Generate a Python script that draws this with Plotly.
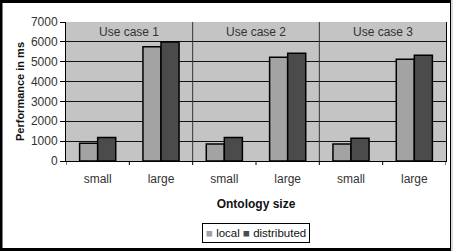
import plotly.graph_objects as go

use_cases = ["Use case 1", "Use case 2", "Use case 3"]
sizes = ["small", "large"]
local = [900, 5750, 850, 5220, 850, 5130]
distributed = [1180, 5990, 1180, 5420, 1140, 5330]
y_ticks = [0, 1000, 2000, 3000, 4000, 5000, 6000, 7000]
series_names = ["local", "distributed"]
series_colors = ["#a3a3a3", "#4b4b4b"]

cats = [f"{u}|{s}" for u in use_cases for s in sizes]
xpos = list(range(len(cats)))
ticktext = [s for u in use_cases for s in sizes]

W, H = 453, 251
ml, mr, mt, mb = 66, 7, 22, 90
pw, ph = W - ml - mr, H - mt - mb

font = "Liberation Sans, Arial, sans-serif"

fig = go.Figure()
for name, vals, col in zip(series_names, [local, distributed], series_colors):
    fig.add_trace(go.Bar(x=xpos, y=vals, name=name, showlegend=False,
                         marker=dict(color=col, line=dict(color="#000", width=1.5))))

px = lambda v: (v - ml) / pw
py = lambda v: (H - mb - v) / ph

shapes = []
n_per = len(sizes)
for k in range(1, len(use_cases)):
    xb = k * n_per - 0.5
    shapes.append(dict(type="line", xref="x", yref="y", x0=xb, x1=xb, y0=0, y1=y_ticks[-1],
                       line=dict(color="#333", width=1)))
for i in range(len(cats) + 1):
    shapes.append(dict(type="line", xref="x", yref="paper", x0=i - 0.5, x1=i - 0.5,
                       y0=0, y1=-4 / ph, line=dict(color="#000", width=1)))
shapes.append(dict(type="rect", xref="paper", yref="paper", x0=px(1), x1=px(W - 1.5),
                   y0=py(H - 1.5), y1=py(1.5), line=dict(color="#000", width=3), layer="below"))
shapes.append(dict(type="line", xref="paper", yref="paper", x0=px(W - 1), x1=px(W - 1),
                   y0=py(H), y1=py(0), line=dict(color="#ddd", width=2)))

annotations = []
for k, u in enumerate(use_cases):
    annotations.append(dict(x=k * n_per + (n_per - 1) / 2, y=(y_ticks[-1] + y_ticks[-2]) / 2,
                            xref="x", yref="y", text=u, showarrow=False,
                            font=dict(family=font, size=12, color="#333")))

leg_text = " ".join(
    f"<span style='color:{c}'>■</span> {n}" for n, c in zip(series_names, series_colors))
annotations.append(dict(x=px(202), y=py(223), xref="paper", yref="paper", xanchor="left",
                        yanchor="top", text=leg_text, showarrow=False, align="left",
                        bordercolor="#000", borderwidth=1, borderpad=3, bgcolor="white",
                        font=dict(family=font, size=11.5, color="#111")))

fig.update_layout(
    width=W, height=H,
    margin=dict(l=ml, r=mr, t=mt, b=mb, autoexpand=False),
    paper_bgcolor="white", plot_bgcolor="#c4c4c4",
    barmode="group", bargap=0.43, bargroupgap=0,
    font=dict(family=font, size=11, color="#222"),
    shapes=shapes, annotations=annotations,
    xaxis=dict(range=[-0.5, len(cats) - 0.5], tickmode="array", tickvals=xpos, ticktext=ticktext,
               ticks="", ticklabelstandoff=7, showgrid=False, zeroline=False, showline=True,
               linecolor="#000", linewidth=1, automargin=False,
               tickfont=dict(family=font, size=12, color="#333"),
               title=dict(text="<b>Ontology size</b>", font=dict(family=font, size=12, color="#111"),
                          standoff=14)),
    yaxis=dict(range=[0, y_ticks[-1]], tickmode="array", tickvals=y_ticks,
               ticks="outside", ticklen=5, tickcolor="#000", showgrid=True, gridcolor="#111",
               gridwidth=1, zeroline=False, showline=True, linecolor="#000", linewidth=1,
               mirror=True, automargin=False, tickfont=dict(family=font, size=12, color="#333"),
               title=dict(text="<b>Performance in ms</b>", font=dict(family=font, size=11, color="#111"),
                          standoff=4)),
)

fig.write_html("out.html")
